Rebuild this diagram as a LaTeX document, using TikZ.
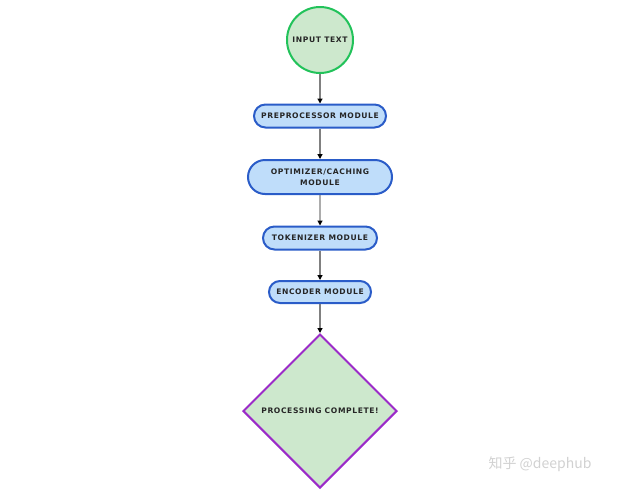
\documentclass[tikz,border=0pt]{standalone}
\usepackage{fontspec}
\setmainfont{DejaVu Sans}[LetterSpace=8]
\newfontfamily\cjk{Noto Sans CJK SC}
\usetikzlibrary{shapes.geometric,shapes.misc,arrows.meta}
\definecolor{gfill}{HTML}{CDE8CD}
\definecolor{gline}{HTML}{22C25A}
\definecolor{bfill}{HTML}{BFDDFA}
\definecolor{bline}{HTML}{2A5CC8}
\definecolor{pline}{HTML}{9B2BC8}
\tikzset{
  txt/.style={font=\bfseries\fontsize{7.6}{11}\selectfont, text=black!85, align=center},
  startnode/.style={circle, draw=gline, line width=2pt, fill=gfill, minimum size=66pt, txt},
  module/.style={rounded rectangle, draw=bline, line width=2pt, fill=bfill, txt, inner sep=2pt},
  endnode/.style={diamond, draw=pline, line width=2pt, fill=gfill, minimum width=154pt, minimum height=154pt, txt, inner sep=0pt},
  conn/.style={draw=gray, line width=1.2pt, -{Triangle[length=5pt,width=5pt,black]}}
}
\begin{document}
\begin{tikzpicture}[x=1pt,y=-1pt]
\useasboundingbox (0,0) rectangle (640,493);
\node[startnode] (in) at (320,40) {INPUT TEXT};
\node[module, minimum width=136pt, minimum height=23pt] (pre) at (320,116) {PREPROCESSOR MODULE};
\node[module, minimum width=148pt, minimum height=34pt] (opt) at (320,177) {OPTIMIZER/CACHING\\MODULE};
\node[module, minimum width=118pt, minimum height=23pt] (tok) at (320,238) {TOKENIZER MODULE};
\node[module, minimum width=106pt, minimum height=22pt] (enc) at (320,292) {ENCODER MODULE};
\node[endnode] (done) at (320,411) {PROCESSING COMPLETE!};
\draw[conn] (in) -- (pre);
\draw[conn] (pre) -- (opt);
\draw[conn] (opt) -- (tok);
\draw[conn] (tok) -- (enc);
\draw[conn] (enc) -- (done);
\node[font=\cjk\fontsize{14}{16}\selectfont, text=black!18] (wm) at (540,464) {知乎 @deephub};
\end{tikzpicture}
\end{document}
